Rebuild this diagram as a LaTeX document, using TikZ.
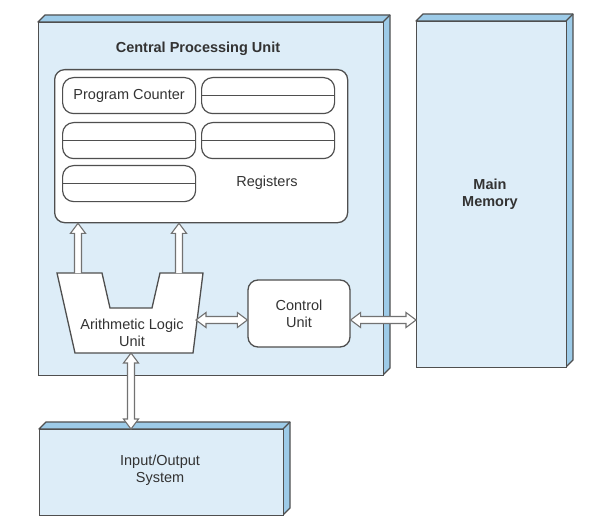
\documentclass[tikz,border=0pt]{standalone}
\usepackage{fontspec}
\setmainfont{Liberation Sans}
\usetikzlibrary{calc}

\definecolor{facecol}{HTML}{DDEDF8}
\definecolor{sidecol}{HTML}{9DCBE8}
\definecolor{linecol}{HTML}{4F4F4F}
\definecolor{textcol}{HTML}{333333}

% hollow arrow, heads at both ends
\newcommand{\fatboth}[2]{%
  \filldraw[fat] (#1) -- ($(#1)!10pt!(#2)!7.5pt!90:(#2)$) -- ($(#1)!10pt!(#2)!3.5pt!90:(#2)$)
    -- ($(#2)!10pt!(#1)!3.5pt!-90:(#1)$) -- ($(#2)!10pt!(#1)!7.5pt!-90:(#1)$) -- (#2)
    -- ($(#2)!10pt!(#1)!7.5pt!90:(#1)$) -- ($(#2)!10pt!(#1)!3.5pt!90:(#1)$)
    -- ($(#1)!10pt!(#2)!3.5pt!-90:(#2)$) -- ($(#1)!10pt!(#2)!7.5pt!-90:(#2)$) -- cycle;}
% hollow arrow, head at the second end only
\newcommand{\fatone}[2]{%
  \filldraw[fat] ($(#1)!3.5pt!90:(#2)$) -- ($(#2)!10pt!(#1)!3.5pt!-90:(#1)$)
    -- ($(#2)!10pt!(#1)!7.5pt!-90:(#1)$) -- (#2) -- ($(#2)!10pt!(#1)!7.5pt!90:(#1)$)
    -- ($(#2)!10pt!(#1)!3.5pt!90:(#1)$) -- ($(#1)!3.5pt!-90:(#2)$);}

\begin{document}
\begin{tikzpicture}[x=1pt, y=-1pt,
    every node/.style={text=textcol, font=\fontsize{14.5}{17}\selectfont},
    face/.style={draw=linecol, fill=facecol, line width=1.3pt, anchor=north west, inner sep=0pt},
    side/.style={draw=linecol, fill=sidecol, line width=1.3pt, line join=round},
    regbox/.style={draw=linecol, fill=white, line width=1.2pt, rounded corners=11pt,
        minimum width=133pt, minimum height=36pt, anchor=north west, inner sep=0pt},
    fat/.style={draw=linecol!80, fill=white, line width=1.1pt}]
    \useasboundingbox (0,0) rectangle (589,524);

    % slabs: cpu, main memory, i/o
    \foreach \n/\x/\y/\w/\h in {cpu/38/22/345/353, mem/416/21/150/346, io/39/429/244/86}{
        \draw[side] (\x,\y) -- ++(7,-7) -- ++(\w,0) -- ++(0,\h) -- ++(-7,7) -- ++(0,-\h) -- cycle;
        \draw[side] (\x+\w,\y) -- ++(7,-7);
        \node[face, minimum width=\w pt, minimum height=\h pt] (\n) at (\x,\y) {};
    }
    \node[font=\bfseries\fontsize{14.5}{17}\selectfont] (cputitle) at (198,49) {Central Processing Unit};
    \node[font=\bfseries\fontsize{14.5}{17}\selectfont, align=center] (memlabel) at (490,194) {Main\\Memory};
    \node[align=center] (iolabel) at (160,470) {Input/Output\\System};

    % registers
    \node[draw=linecol, fill=white, line width=1.3pt, rounded corners=10pt, anchor=north west,
        minimum width=293pt, minimum height=153pt] (regs) at (54,69) {};
    \node[regbox] (pc) at (62,77) {Program Counter};
    \foreach \x/\y [count=\i] in {201/77, 62/122, 201/122, 62/165}{
        \node[regbox] (r\i) at (\x,\y) {};
        \draw[linecol, line width=1.2pt] (r\i.west) -- (r\i.east);
    }
    \node (reglabel) at (267,183) {Registers};

    % alu
    \draw[linecol, fill=white, line width=1.3pt] (57,273) -- (102,273) -- (110,308) -- (152,308)
        -- (160,273) -- (203,273) -- (193,353) -- (75,353) -- cycle;
    \node[align=center] (alu) at (132,333) {Arithmetic Logic\\Unit};
    \coordinate (alu-a) at (78,273);
    \coordinate (alu-b) at (179,273);
    \coordinate (alu-c) at (196,320);
    \coordinate (alu-d) at (131,353);

    % control unit
    \node[draw=linecol, fill=white, line width=1.3pt, rounded corners=10pt, align=center,
        minimum width=102pt, minimum height=67pt] (cu) at (299,313.5) {Control\\Unit};

    % buses
    \coordinate (reg-a) at (alu-a |- regs.south);
    \coordinate (reg-b) at (alu-b |- regs.south);
    \coordinate (cu-l) at (cu.west |- alu-c);
    \coordinate (cu-r) at (cu.east |- alu-c);
    \coordinate (mem-l) at (mem.west |- alu-c);
    \coordinate (io-t) at (alu-d |- io.north);
    \fatone{alu-a}{reg-a}
    \fatone{alu-b}{reg-b}
    \fatboth{alu-c}{cu-l}
    \fatboth{cu-r}{mem-l}
    \fatboth{alu-d}{io-t}

\end{tikzpicture}
\end{document}
